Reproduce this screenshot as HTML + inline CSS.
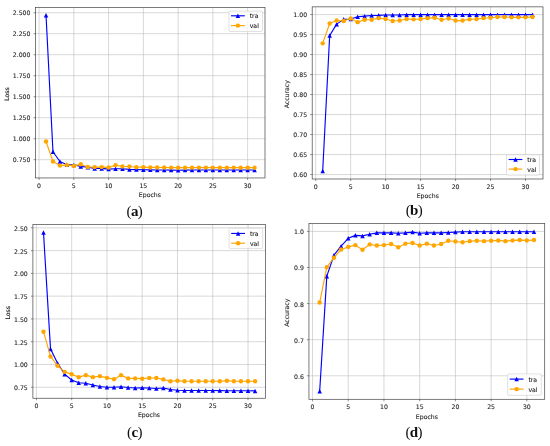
<!DOCTYPE html>
<html><head><meta charset="utf-8"><title>Training curves</title>
<style>
html,body{margin:0;padding:0;background:#fff;}
body{width:550px;height:446px;overflow:hidden;}
svg{display:block;}
.t{font-family:"DejaVu Sans","Liberation Sans",sans-serif;font-size:6.2px;fill:#1c1c1c;stroke:#1c1c1c;stroke-width:0.1px;}
.cap{font-family:"Liberation Serif","DejaVu Serif",serif;font-size:15px;fill:#111;letter-spacing:-0.7px;}
.cap .b{font-weight:bold;}
</style></head><body>
<svg width="550" height="446" viewBox="0 0 550 446">
<rect x="0" y="0" width="550" height="446" fill="#ffffff"/>

<g>
<path d="M39.08 7.45V177.95M73.83 7.45V177.95M108.59 7.45V177.95M143.35 7.45V177.95M178.11 7.45V177.95M212.86 7.45V177.95M247.62 7.45V177.95M35.60 159.70H265.00M35.60 138.70H265.00M35.60 117.70H265.00M35.60 96.70H265.00M35.60 75.70H265.00M35.60 54.70H265.00M35.60 33.70H265.00M35.60 12.70H265.00" stroke="#b8b8b8" stroke-width="0.55" fill="none"/>
<path d="M39.08 177.95v2M73.83 177.95v2M108.59 177.95v2M143.35 177.95v2M178.11 177.95v2M212.86 177.95v2M247.62 177.95v2M35.60 159.70h-2M35.60 138.70h-2M35.60 117.70h-2M35.60 96.70h-2M35.60 75.70h-2M35.60 54.70h-2M35.60 33.70h-2M35.60 12.70h-2" stroke="#444444" stroke-width="0.6" fill="none"/>
<polyline points="46.03,15.22 52.98,151.72 59.93,161.46 66.88,164.74 73.83,164.91 80.78,166.42 87.74,167.26 94.69,168.44 101.64,168.44 108.59,169.11 115.54,168.77 122.49,168.77 129.45,169.44 136.40,169.61 143.35,169.78 150.30,169.86 157.25,169.95 164.20,170.03 171.15,170.12 178.11,170.20 185.06,170.12 192.01,170.03 198.96,169.95 205.91,169.95 212.86,169.95 219.82,169.95 226.77,169.95 233.72,169.95 240.67,169.95 247.62,169.95 254.57,170.03" fill="none" stroke="#0000ff" stroke-width="1.15" stroke-linejoin="round"/>
<path d="M46.03 12.97L48.28 17.47L43.78 17.47ZM52.98 149.47L55.23 153.97L50.73 153.97ZM59.93 159.21L62.18 163.71L57.68 163.71ZM66.88 162.49L69.13 166.99L64.63 166.99ZM73.83 162.66L76.08 167.16L71.58 167.16ZM80.78 164.17L83.03 168.67L78.53 168.67ZM87.74 165.01L89.99 169.51L85.49 169.51ZM94.69 166.19L96.94 170.69L92.44 170.69ZM101.64 166.19L103.89 170.69L99.39 170.69ZM108.59 166.86L110.84 171.36L106.34 171.36ZM115.54 166.52L117.79 171.02L113.29 171.02ZM122.49 166.52L124.74 171.02L120.24 171.02ZM129.45 167.19L131.70 171.69L127.20 171.69ZM136.40 167.36L138.65 171.86L134.15 171.86ZM143.35 167.53L145.60 172.03L141.10 172.03ZM150.30 167.61L152.55 172.11L148.05 172.11ZM157.25 167.70L159.50 172.20L155.00 172.20ZM164.20 167.78L166.45 172.28L161.95 172.28ZM171.15 167.87L173.40 172.37L168.90 172.37ZM178.11 167.95L180.36 172.45L175.86 172.45ZM185.06 167.87L187.31 172.37L182.81 172.37ZM192.01 167.78L194.26 172.28L189.76 172.28ZM198.96 167.70L201.21 172.20L196.71 172.20ZM205.91 167.70L208.16 172.20L203.66 172.20ZM212.86 167.70L215.11 172.20L210.61 172.20ZM219.82 167.70L222.07 172.20L217.57 172.20ZM226.77 167.70L229.02 172.20L224.52 172.20ZM233.72 167.70L235.97 172.20L231.47 172.20ZM240.67 167.70L242.92 172.20L238.42 172.20ZM247.62 167.70L249.87 172.20L245.37 172.20ZM254.57 167.78L256.82 172.28L252.32 172.28Z" fill="#0000ff"/>
<polyline points="46.03,141.47 52.98,161.46 59.93,165.58 66.88,164.91 73.83,165.92 80.78,164.32 87.74,167.01 94.69,167.09 101.64,167.09 108.59,167.43 115.54,165.16 122.49,166.50 129.45,166.50 136.40,167.26 143.35,167.09 150.30,167.43 157.25,167.43 164.20,167.51 171.15,167.60 178.11,167.68 185.06,167.68 192.01,167.60 198.96,167.60 205.91,167.60 212.86,167.60 219.82,167.68 226.77,167.68 233.72,167.60 240.67,167.68 247.62,167.68 254.57,167.68" fill="none" stroke="#ffa500" stroke-width="1.15" stroke-linejoin="round"/>
<circle cx="46.03" cy="141.47" r="2.2" fill="#ffa500"/>
<circle cx="52.98" cy="161.46" r="2.2" fill="#ffa500"/>
<circle cx="59.93" cy="165.58" r="2.2" fill="#ffa500"/>
<circle cx="66.88" cy="164.91" r="2.2" fill="#ffa500"/>
<circle cx="73.83" cy="165.92" r="2.2" fill="#ffa500"/>
<circle cx="80.78" cy="164.32" r="2.2" fill="#ffa500"/>
<circle cx="87.74" cy="167.01" r="2.2" fill="#ffa500"/>
<circle cx="94.69" cy="167.09" r="2.2" fill="#ffa500"/>
<circle cx="101.64" cy="167.09" r="2.2" fill="#ffa500"/>
<circle cx="108.59" cy="167.43" r="2.2" fill="#ffa500"/>
<circle cx="115.54" cy="165.16" r="2.2" fill="#ffa500"/>
<circle cx="122.49" cy="166.50" r="2.2" fill="#ffa500"/>
<circle cx="129.45" cy="166.50" r="2.2" fill="#ffa500"/>
<circle cx="136.40" cy="167.26" r="2.2" fill="#ffa500"/>
<circle cx="143.35" cy="167.09" r="2.2" fill="#ffa500"/>
<circle cx="150.30" cy="167.43" r="2.2" fill="#ffa500"/>
<circle cx="157.25" cy="167.43" r="2.2" fill="#ffa500"/>
<circle cx="164.20" cy="167.51" r="2.2" fill="#ffa500"/>
<circle cx="171.15" cy="167.60" r="2.2" fill="#ffa500"/>
<circle cx="178.11" cy="167.68" r="2.2" fill="#ffa500"/>
<circle cx="185.06" cy="167.68" r="2.2" fill="#ffa500"/>
<circle cx="192.01" cy="167.60" r="2.2" fill="#ffa500"/>
<circle cx="198.96" cy="167.60" r="2.2" fill="#ffa500"/>
<circle cx="205.91" cy="167.60" r="2.2" fill="#ffa500"/>
<circle cx="212.86" cy="167.60" r="2.2" fill="#ffa500"/>
<circle cx="219.82" cy="167.68" r="2.2" fill="#ffa500"/>
<circle cx="226.77" cy="167.68" r="2.2" fill="#ffa500"/>
<circle cx="233.72" cy="167.60" r="2.2" fill="#ffa500"/>
<circle cx="240.67" cy="167.68" r="2.2" fill="#ffa500"/>
<circle cx="247.62" cy="167.68" r="2.2" fill="#ffa500"/>
<circle cx="254.57" cy="167.68" r="2.2" fill="#ffa500"/>
<rect x="35.60" y="7.45" width="229.40" height="170.50" fill="none" stroke="#444444" stroke-width="0.7"/>
<text class="t" x="39.08" y="187.65" text-anchor="middle">0</text>
<text class="t" x="73.83" y="187.65" text-anchor="middle">5</text>
<text class="t" x="108.59" y="187.65" text-anchor="middle">10</text>
<text class="t" x="143.35" y="187.65" text-anchor="middle">15</text>
<text class="t" x="178.11" y="187.65" text-anchor="middle">20</text>
<text class="t" x="212.86" y="187.65" text-anchor="middle">25</text>
<text class="t" x="247.62" y="187.65" text-anchor="middle">30</text>
<text class="t" x="30.50" y="162.35" text-anchor="end">0.750</text>
<text class="t" x="30.50" y="141.35" text-anchor="end">1.000</text>
<text class="t" x="30.50" y="120.35" text-anchor="end">1.250</text>
<text class="t" x="30.50" y="99.35" text-anchor="end">1.500</text>
<text class="t" x="30.50" y="78.35" text-anchor="end">1.750</text>
<text class="t" x="30.50" y="57.35" text-anchor="end">2.000</text>
<text class="t" x="30.50" y="36.35" text-anchor="end">2.250</text>
<text class="t" x="30.50" y="15.35" text-anchor="end">2.500</text>
<text class="t" x="149.90" y="196.95" text-anchor="middle">Epochs</text>
<text class="t" transform="translate(9.30 94.00) rotate(-90)" text-anchor="middle">Loss</text>
<rect x="228.90" y="11.10" width="33.60" height="20.35" rx="1.2" fill="#ffffff" fill-opacity="0.8" stroke="#cccccc" stroke-width="0.6"/>
<path d="M231.00 15.80H244.80" stroke="#0000ff" stroke-width="1.15"/>
<path d="M237.90 13.55L240.15 18.05L235.65 18.05Z" fill="#0000ff"/>
<path d="M231.00 25.60H244.80" stroke="#ffa500" stroke-width="1.15"/>
<circle cx="237.90" cy="25.60" r="2.2" fill="#ffa500"/>
<text class="t" x="249.70" y="18.30">tra</text>
<text class="t" x="249.70" y="28.10">val</text>
<text class="cap" x="134.30" y="215.60" text-anchor="middle">(<tspan class="b">a</tspan>)</text>
</g>
<g>
<path d="M315.70 6.85V179.00M350.67 6.85V179.00M385.64 6.85V179.00M420.61 6.85V179.00M455.58 6.85V179.00M490.55 6.85V179.00M525.52 6.85V179.00M312.20 174.55H543.00M312.20 154.55H543.00M312.20 134.55H543.00M312.20 114.55H543.00M312.20 94.55H543.00M312.20 74.55H543.00M312.20 54.55H543.00M312.20 34.55H543.00M312.20 14.55H543.00" stroke="#b8b8b8" stroke-width="0.55" fill="none"/>
<path d="M315.70 179.00v2M350.67 179.00v2M385.64 179.00v2M420.61 179.00v2M455.58 179.00v2M490.55 179.00v2M525.52 179.00v2M312.20 174.55h-2M312.20 154.55h-2M312.20 134.55h-2M312.20 114.55h-2M312.20 94.55h-2M312.20 74.55h-2M312.20 54.55h-2M312.20 34.55h-2M312.20 14.55h-2" stroke="#444444" stroke-width="0.6" fill="none"/>
<polyline points="322.69,170.95 329.68,35.55 336.68,24.15 343.67,19.35 350.67,18.95 357.66,16.75 364.65,16.15 371.65,15.55 378.64,15.35 385.64,14.95 392.63,14.95 399.62,14.95 406.62,14.63 413.61,14.63 420.61,14.63 427.60,14.63 434.59,14.63 441.59,14.63 448.58,14.63 455.58,14.63 462.57,14.63 469.56,14.63 476.56,14.63 483.55,14.63 490.55,14.63 497.54,14.63 504.53,14.63 511.53,14.63 518.52,14.63 525.52,14.63 532.51,14.63" fill="none" stroke="#0000ff" stroke-width="1.15" stroke-linejoin="round"/>
<path d="M322.69 168.70L324.94 173.20L320.44 173.20ZM329.68 33.30L331.93 37.80L327.43 37.80ZM336.68 21.90L338.93 26.40L334.43 26.40ZM343.67 17.10L345.92 21.60L341.42 21.60ZM350.67 16.70L352.92 21.20L348.42 21.20ZM357.66 14.50L359.91 19.00L355.41 19.00ZM364.65 13.90L366.90 18.40L362.40 18.40ZM371.65 13.30L373.90 17.80L369.40 17.80ZM378.64 13.10L380.89 17.60L376.39 17.60ZM385.64 12.70L387.89 17.20L383.39 17.20ZM392.63 12.70L394.88 17.20L390.38 17.20ZM399.62 12.70L401.87 17.20L397.37 17.20ZM406.62 12.38L408.87 16.88L404.37 16.88ZM413.61 12.38L415.86 16.88L411.36 16.88ZM420.61 12.38L422.86 16.88L418.36 16.88ZM427.60 12.38L429.85 16.88L425.35 16.88ZM434.59 12.38L436.84 16.88L432.34 16.88ZM441.59 12.38L443.84 16.88L439.34 16.88ZM448.58 12.38L450.83 16.88L446.33 16.88ZM455.58 12.38L457.83 16.88L453.33 16.88ZM462.57 12.38L464.82 16.88L460.32 16.88ZM469.56 12.38L471.81 16.88L467.31 16.88ZM476.56 12.38L478.81 16.88L474.31 16.88ZM483.55 12.38L485.80 16.88L481.30 16.88ZM490.55 12.38L492.80 16.88L488.30 16.88ZM497.54 12.38L499.79 16.88L495.29 16.88ZM504.53 12.38L506.78 16.88L502.28 16.88ZM511.53 12.38L513.78 16.88L509.28 16.88ZM518.52 12.38L520.77 16.88L516.27 16.88ZM525.52 12.38L527.77 16.88L523.27 16.88ZM532.51 12.38L534.76 16.88L530.26 16.88Z" fill="#0000ff"/>
<polyline points="322.69,43.35 329.68,23.55 336.68,20.55 343.67,20.95 350.67,18.55 357.66,22.15 364.65,19.75 371.65,19.75 378.64,18.15 385.64,18.95 392.63,20.95 399.62,20.55 406.62,18.95 413.61,19.35 420.61,18.95 427.60,18.15 434.59,17.75 441.59,19.75 448.58,18.55 455.58,20.55 462.57,20.55 469.56,19.35 476.56,18.95 483.55,18.15 490.55,17.75 497.54,16.95 504.53,16.95 511.53,17.35 518.52,17.35 525.52,17.35 532.51,16.95" fill="none" stroke="#ffa500" stroke-width="1.15" stroke-linejoin="round"/>
<circle cx="322.69" cy="43.35" r="2.2" fill="#ffa500"/>
<circle cx="329.68" cy="23.55" r="2.2" fill="#ffa500"/>
<circle cx="336.68" cy="20.55" r="2.2" fill="#ffa500"/>
<circle cx="343.67" cy="20.95" r="2.2" fill="#ffa500"/>
<circle cx="350.67" cy="18.55" r="2.2" fill="#ffa500"/>
<circle cx="357.66" cy="22.15" r="2.2" fill="#ffa500"/>
<circle cx="364.65" cy="19.75" r="2.2" fill="#ffa500"/>
<circle cx="371.65" cy="19.75" r="2.2" fill="#ffa500"/>
<circle cx="378.64" cy="18.15" r="2.2" fill="#ffa500"/>
<circle cx="385.64" cy="18.95" r="2.2" fill="#ffa500"/>
<circle cx="392.63" cy="20.95" r="2.2" fill="#ffa500"/>
<circle cx="399.62" cy="20.55" r="2.2" fill="#ffa500"/>
<circle cx="406.62" cy="18.95" r="2.2" fill="#ffa500"/>
<circle cx="413.61" cy="19.35" r="2.2" fill="#ffa500"/>
<circle cx="420.61" cy="18.95" r="2.2" fill="#ffa500"/>
<circle cx="427.60" cy="18.15" r="2.2" fill="#ffa500"/>
<circle cx="434.59" cy="17.75" r="2.2" fill="#ffa500"/>
<circle cx="441.59" cy="19.75" r="2.2" fill="#ffa500"/>
<circle cx="448.58" cy="18.55" r="2.2" fill="#ffa500"/>
<circle cx="455.58" cy="20.55" r="2.2" fill="#ffa500"/>
<circle cx="462.57" cy="20.55" r="2.2" fill="#ffa500"/>
<circle cx="469.56" cy="19.35" r="2.2" fill="#ffa500"/>
<circle cx="476.56" cy="18.95" r="2.2" fill="#ffa500"/>
<circle cx="483.55" cy="18.15" r="2.2" fill="#ffa500"/>
<circle cx="490.55" cy="17.75" r="2.2" fill="#ffa500"/>
<circle cx="497.54" cy="16.95" r="2.2" fill="#ffa500"/>
<circle cx="504.53" cy="16.95" r="2.2" fill="#ffa500"/>
<circle cx="511.53" cy="17.35" r="2.2" fill="#ffa500"/>
<circle cx="518.52" cy="17.35" r="2.2" fill="#ffa500"/>
<circle cx="525.52" cy="17.35" r="2.2" fill="#ffa500"/>
<circle cx="532.51" cy="16.95" r="2.2" fill="#ffa500"/>
<rect x="312.20" y="6.85" width="230.80" height="172.15" fill="none" stroke="#444444" stroke-width="0.7"/>
<text class="t" x="315.70" y="188.70" text-anchor="middle">0</text>
<text class="t" x="350.67" y="188.70" text-anchor="middle">5</text>
<text class="t" x="385.64" y="188.70" text-anchor="middle">10</text>
<text class="t" x="420.61" y="188.70" text-anchor="middle">15</text>
<text class="t" x="455.58" y="188.70" text-anchor="middle">20</text>
<text class="t" x="490.55" y="188.70" text-anchor="middle">25</text>
<text class="t" x="525.52" y="188.70" text-anchor="middle">30</text>
<text class="t" x="307.10" y="176.95" text-anchor="end">0.60</text>
<text class="t" x="307.10" y="156.95" text-anchor="end">0.65</text>
<text class="t" x="307.10" y="136.95" text-anchor="end">0.70</text>
<text class="t" x="307.10" y="116.95" text-anchor="end">0.75</text>
<text class="t" x="307.10" y="96.95" text-anchor="end">0.80</text>
<text class="t" x="307.10" y="76.95" text-anchor="end">0.85</text>
<text class="t" x="307.10" y="56.95" text-anchor="end">0.90</text>
<text class="t" x="307.10" y="36.95" text-anchor="end">0.95</text>
<text class="t" x="307.10" y="16.95" text-anchor="end">1.00</text>
<text class="t" x="427.80" y="198.30" text-anchor="middle">Epochs</text>
<text class="t" transform="translate(288.60 94.22) rotate(-90)" text-anchor="middle">Accuracy</text>
<rect x="506.50" y="154.80" width="33.00" height="20.30" rx="1.2" fill="#ffffff" fill-opacity="0.8" stroke="#cccccc" stroke-width="0.6"/>
<path d="M508.60 159.50H522.40" stroke="#0000ff" stroke-width="1.15"/>
<path d="M515.50 157.25L517.75 161.75L513.25 161.75Z" fill="#0000ff"/>
<path d="M508.60 169.10H522.40" stroke="#ffa500" stroke-width="1.15"/>
<circle cx="515.50" cy="169.10" r="2.2" fill="#ffa500"/>
<text class="t" x="527.30" y="162.00">tra</text>
<text class="t" x="527.30" y="171.60">val</text>
<text class="cap" x="413.80" y="215.40" text-anchor="middle">(<tspan class="b">b</tspan>)</text>
</g>
<g>
<path d="M36.43 224.60V398.25M71.69 224.60V398.25M106.96 224.60V398.25M142.22 224.60V398.25M177.49 224.60V398.25M212.75 224.60V398.25M248.02 224.60V398.25M32.90 387.25H265.65M32.90 364.48H265.65M32.90 341.71H265.65M32.90 318.94H265.65M32.90 296.16H265.65M32.90 273.39H265.65M32.90 250.62H265.65M32.90 227.85H265.65" stroke="#b8b8b8" stroke-width="0.55" fill="none"/>
<path d="M36.43 398.25v2M71.69 398.25v2M106.96 398.25v2M142.22 398.25v2M177.49 398.25v2M212.75 398.25v2M248.02 398.25v2M32.90 387.25h-2M32.90 364.48h-2M32.90 341.71h-2M32.90 318.94h-2M32.90 296.16h-2M32.90 273.39h-2M32.90 250.62h-2M32.90 227.85h-2" stroke="#444444" stroke-width="0.6" fill="none"/>
<polyline points="43.48,232.40 50.53,348.90 57.59,363.29 64.64,374.13 71.69,379.96 78.74,382.70 85.80,383.24 92.85,384.97 99.90,386.52 106.96,387.25 114.01,387.25 121.06,386.70 128.12,387.52 135.17,387.98 142.22,387.80 149.27,387.98 156.33,388.53 163.38,387.98 170.43,389.53 177.49,390.26 184.54,390.53 191.59,390.53 198.65,390.53 205.70,390.53 212.75,390.53 219.81,390.62 226.86,390.71 233.91,390.71 240.96,390.71 248.02,390.80 255.07,390.89" fill="none" stroke="#0000ff" stroke-width="1.15" stroke-linejoin="round"/>
<path d="M43.48 230.15L45.73 234.65L41.23 234.65ZM50.53 346.65L52.78 351.15L48.28 351.15ZM57.59 361.04L59.84 365.54L55.34 365.54ZM64.64 371.88L66.89 376.38L62.39 376.38ZM71.69 377.71L73.94 382.21L69.44 382.21ZM78.74 380.45L80.99 384.95L76.49 384.95ZM85.80 380.99L88.05 385.49L83.55 385.49ZM92.85 382.72L95.10 387.22L90.60 387.22ZM99.90 384.27L102.15 388.77L97.65 388.77ZM106.96 385.00L109.21 389.50L104.71 389.50ZM114.01 385.00L116.26 389.50L111.76 389.50ZM121.06 384.45L123.31 388.95L118.81 388.95ZM128.12 385.27L130.37 389.77L125.87 389.77ZM135.17 385.73L137.42 390.23L132.92 390.23ZM142.22 385.55L144.47 390.05L139.97 390.05ZM149.27 385.73L151.52 390.23L147.02 390.23ZM156.33 386.28L158.58 390.78L154.08 390.78ZM163.38 385.73L165.63 390.23L161.13 390.23ZM170.43 387.28L172.68 391.78L168.18 391.78ZM177.49 388.01L179.74 392.51L175.24 392.51ZM184.54 388.28L186.79 392.78L182.29 392.78ZM191.59 388.28L193.84 392.78L189.34 392.78ZM198.65 388.28L200.90 392.78L196.40 392.78ZM205.70 388.28L207.95 392.78L203.45 392.78ZM212.75 388.28L215.00 392.78L210.50 392.78ZM219.81 388.37L222.06 392.87L217.56 392.87ZM226.86 388.46L229.11 392.96L224.61 392.96ZM233.91 388.46L236.16 392.96L231.66 392.96ZM240.96 388.46L243.21 392.96L238.71 392.96ZM248.02 388.55L250.27 393.05L245.77 393.05ZM255.07 388.64L257.32 393.14L252.82 393.14Z" fill="#0000ff"/>
<polyline points="43.48,331.69 50.53,356.46 57.59,365.75 64.64,371.86 71.69,374.32 78.74,377.14 85.80,375.14 92.85,377.14 99.90,376.14 106.96,377.87 114.01,379.14 121.06,375.14 128.12,378.41 135.17,378.41 142.22,378.69 149.27,377.96 156.33,377.96 163.38,379.42 170.43,381.24 177.49,380.69 184.54,381.24 191.59,381.24 198.65,381.24 205.70,381.24 212.75,381.24 219.81,381.24 226.86,380.69 233.91,381.24 240.96,381.24 248.02,381.24 255.07,381.24" fill="none" stroke="#ffa500" stroke-width="1.15" stroke-linejoin="round"/>
<circle cx="43.48" cy="331.69" r="2.2" fill="#ffa500"/>
<circle cx="50.53" cy="356.46" r="2.2" fill="#ffa500"/>
<circle cx="57.59" cy="365.75" r="2.2" fill="#ffa500"/>
<circle cx="64.64" cy="371.86" r="2.2" fill="#ffa500"/>
<circle cx="71.69" cy="374.32" r="2.2" fill="#ffa500"/>
<circle cx="78.74" cy="377.14" r="2.2" fill="#ffa500"/>
<circle cx="85.80" cy="375.14" r="2.2" fill="#ffa500"/>
<circle cx="92.85" cy="377.14" r="2.2" fill="#ffa500"/>
<circle cx="99.90" cy="376.14" r="2.2" fill="#ffa500"/>
<circle cx="106.96" cy="377.87" r="2.2" fill="#ffa500"/>
<circle cx="114.01" cy="379.14" r="2.2" fill="#ffa500"/>
<circle cx="121.06" cy="375.14" r="2.2" fill="#ffa500"/>
<circle cx="128.12" cy="378.41" r="2.2" fill="#ffa500"/>
<circle cx="135.17" cy="378.41" r="2.2" fill="#ffa500"/>
<circle cx="142.22" cy="378.69" r="2.2" fill="#ffa500"/>
<circle cx="149.27" cy="377.96" r="2.2" fill="#ffa500"/>
<circle cx="156.33" cy="377.96" r="2.2" fill="#ffa500"/>
<circle cx="163.38" cy="379.42" r="2.2" fill="#ffa500"/>
<circle cx="170.43" cy="381.24" r="2.2" fill="#ffa500"/>
<circle cx="177.49" cy="380.69" r="2.2" fill="#ffa500"/>
<circle cx="184.54" cy="381.24" r="2.2" fill="#ffa500"/>
<circle cx="191.59" cy="381.24" r="2.2" fill="#ffa500"/>
<circle cx="198.65" cy="381.24" r="2.2" fill="#ffa500"/>
<circle cx="205.70" cy="381.24" r="2.2" fill="#ffa500"/>
<circle cx="212.75" cy="381.24" r="2.2" fill="#ffa500"/>
<circle cx="219.81" cy="381.24" r="2.2" fill="#ffa500"/>
<circle cx="226.86" cy="380.69" r="2.2" fill="#ffa500"/>
<circle cx="233.91" cy="381.24" r="2.2" fill="#ffa500"/>
<circle cx="240.96" cy="381.24" r="2.2" fill="#ffa500"/>
<circle cx="248.02" cy="381.24" r="2.2" fill="#ffa500"/>
<circle cx="255.07" cy="381.24" r="2.2" fill="#ffa500"/>
<rect x="32.90" y="224.60" width="232.75" height="173.65" fill="none" stroke="#444444" stroke-width="0.7"/>
<text class="t" x="36.43" y="407.95" text-anchor="middle">0</text>
<text class="t" x="71.69" y="407.95" text-anchor="middle">5</text>
<text class="t" x="106.96" y="407.95" text-anchor="middle">10</text>
<text class="t" x="142.22" y="407.95" text-anchor="middle">15</text>
<text class="t" x="177.49" y="407.95" text-anchor="middle">20</text>
<text class="t" x="212.75" y="407.95" text-anchor="middle">25</text>
<text class="t" x="248.02" y="407.95" text-anchor="middle">30</text>
<text class="t" x="27.80" y="390.20" text-anchor="end">0.75</text>
<text class="t" x="27.80" y="367.43" text-anchor="end">1.00</text>
<text class="t" x="27.80" y="344.66" text-anchor="end">1.25</text>
<text class="t" x="27.80" y="321.89" text-anchor="end">1.50</text>
<text class="t" x="27.80" y="299.11" text-anchor="end">1.75</text>
<text class="t" x="27.80" y="276.34" text-anchor="end">2.00</text>
<text class="t" x="27.80" y="253.57" text-anchor="end">2.25</text>
<text class="t" x="27.80" y="230.80" text-anchor="end">2.50</text>
<text class="t" x="148.97" y="417.35" text-anchor="middle">Epochs</text>
<text class="t" transform="translate(9.90 312.73) rotate(-90)" text-anchor="middle">Loss</text>
<rect x="229.10" y="228.20" width="33.60" height="20.40" rx="1.2" fill="#ffffff" fill-opacity="0.8" stroke="#cccccc" stroke-width="0.6"/>
<path d="M231.20 233.45H245.00" stroke="#0000ff" stroke-width="1.15"/>
<path d="M238.10 231.20L240.35 235.70L235.85 235.70Z" fill="#0000ff"/>
<path d="M231.20 243.20H245.00" stroke="#ffa500" stroke-width="1.15"/>
<circle cx="238.10" cy="243.20" r="2.2" fill="#ffa500"/>
<text class="t" x="249.90" y="235.95">tra</text>
<text class="t" x="249.90" y="245.70">val</text>
<text class="cap" x="134.40" y="437.00" text-anchor="middle">(<tspan class="b">c</tspan>)</text>
</g>
<g>
<path d="M312.52 223.50V399.30M348.24 223.50V399.30M383.96 223.50V399.30M419.68 223.50V399.30M455.40 223.50V399.30M491.12 223.50V399.30M526.84 223.50V399.30M308.95 375.80H544.70M308.95 339.70H544.70M308.95 303.60H544.70M308.95 267.50H544.70M308.95 231.40H544.70" stroke="#b8b8b8" stroke-width="0.55" fill="none"/>
<path d="M312.52 399.30v2M348.24 399.30v2M383.96 399.30v2M419.68 399.30v2M455.40 399.30v2M491.12 399.30v2M526.84 399.30v2M308.95 375.80h-2M308.95 339.70h-2M308.95 303.60h-2M308.95 267.50h-2M308.95 231.40h-2" stroke="#444444" stroke-width="0.6" fill="none"/>
<polyline points="319.67,391.32 326.81,276.16 333.95,255.23 341.10,246.20 348.24,238.26 355.39,235.37 362.53,235.91 369.67,234.29 376.82,232.84 383.96,232.84 391.11,232.84 398.25,233.21 405.39,232.84 412.54,232.12 419.68,233.21 426.83,232.84 433.97,232.84 441.11,232.84 448.26,232.48 455.40,232.12 462.54,231.76 469.69,231.76 476.83,231.76 483.98,231.76 491.12,231.76 498.26,231.76 505.41,231.76 512.55,231.76 519.70,231.76 526.84,231.76 533.98,231.76" fill="none" stroke="#0000ff" stroke-width="1.15" stroke-linejoin="round"/>
<path d="M319.67 389.07L321.92 393.57L317.42 393.57ZM326.81 273.91L329.06 278.41L324.56 278.41ZM333.95 252.98L336.20 257.48L331.70 257.48ZM341.10 243.95L343.35 248.45L338.85 248.45ZM348.24 236.01L350.49 240.51L345.99 240.51ZM355.39 233.12L357.64 237.62L353.14 237.62ZM362.53 233.66L364.78 238.16L360.28 238.16ZM369.67 232.04L371.92 236.54L367.42 236.54ZM376.82 230.59L379.07 235.09L374.57 235.09ZM383.96 230.59L386.21 235.09L381.71 235.09ZM391.11 230.59L393.36 235.09L388.86 235.09ZM398.25 230.96L400.50 235.46L396.00 235.46ZM405.39 230.59L407.64 235.09L403.14 235.09ZM412.54 229.87L414.79 234.37L410.29 234.37ZM419.68 230.96L421.93 235.46L417.43 235.46ZM426.83 230.59L429.08 235.09L424.58 235.09ZM433.97 230.59L436.22 235.09L431.72 235.09ZM441.11 230.59L443.36 235.09L438.86 235.09ZM448.26 230.23L450.51 234.73L446.01 234.73ZM455.40 229.87L457.65 234.37L453.15 234.37ZM462.54 229.51L464.79 234.01L460.29 234.01ZM469.69 229.51L471.94 234.01L467.44 234.01ZM476.83 229.51L479.08 234.01L474.58 234.01ZM483.98 229.51L486.23 234.01L481.73 234.01ZM491.12 229.51L493.37 234.01L488.87 234.01ZM498.26 229.51L500.51 234.01L496.01 234.01ZM505.41 229.51L507.66 234.01L503.16 234.01ZM512.55 229.51L514.80 234.01L510.30 234.01ZM519.70 229.51L521.95 234.01L517.45 234.01ZM526.84 229.51L529.09 234.01L524.59 234.01ZM533.98 229.51L536.23 234.01L531.73 234.01Z" fill="#0000ff"/>
<polyline points="319.67,302.52 326.81,267.14 333.95,257.75 341.10,249.45 348.24,246.92 355.39,245.12 362.53,249.81 369.67,244.40 376.82,245.48 383.96,245.12 391.11,244.04 398.25,247.28 405.39,243.67 412.54,242.95 419.68,245.48 426.83,243.67 433.97,245.48 441.11,244.04 448.26,240.79 455.40,241.51 462.54,242.23 469.69,241.15 476.83,240.79 483.98,241.15 491.12,240.79 498.26,240.43 505.41,241.15 512.55,240.43 519.70,240.06 526.84,240.43 533.98,240.06" fill="none" stroke="#ffa500" stroke-width="1.15" stroke-linejoin="round"/>
<circle cx="319.67" cy="302.52" r="2.2" fill="#ffa500"/>
<circle cx="326.81" cy="267.14" r="2.2" fill="#ffa500"/>
<circle cx="333.95" cy="257.75" r="2.2" fill="#ffa500"/>
<circle cx="341.10" cy="249.45" r="2.2" fill="#ffa500"/>
<circle cx="348.24" cy="246.92" r="2.2" fill="#ffa500"/>
<circle cx="355.39" cy="245.12" r="2.2" fill="#ffa500"/>
<circle cx="362.53" cy="249.81" r="2.2" fill="#ffa500"/>
<circle cx="369.67" cy="244.40" r="2.2" fill="#ffa500"/>
<circle cx="376.82" cy="245.48" r="2.2" fill="#ffa500"/>
<circle cx="383.96" cy="245.12" r="2.2" fill="#ffa500"/>
<circle cx="391.11" cy="244.04" r="2.2" fill="#ffa500"/>
<circle cx="398.25" cy="247.28" r="2.2" fill="#ffa500"/>
<circle cx="405.39" cy="243.67" r="2.2" fill="#ffa500"/>
<circle cx="412.54" cy="242.95" r="2.2" fill="#ffa500"/>
<circle cx="419.68" cy="245.48" r="2.2" fill="#ffa500"/>
<circle cx="426.83" cy="243.67" r="2.2" fill="#ffa500"/>
<circle cx="433.97" cy="245.48" r="2.2" fill="#ffa500"/>
<circle cx="441.11" cy="244.04" r="2.2" fill="#ffa500"/>
<circle cx="448.26" cy="240.79" r="2.2" fill="#ffa500"/>
<circle cx="455.40" cy="241.51" r="2.2" fill="#ffa500"/>
<circle cx="462.54" cy="242.23" r="2.2" fill="#ffa500"/>
<circle cx="469.69" cy="241.15" r="2.2" fill="#ffa500"/>
<circle cx="476.83" cy="240.79" r="2.2" fill="#ffa500"/>
<circle cx="483.98" cy="241.15" r="2.2" fill="#ffa500"/>
<circle cx="491.12" cy="240.79" r="2.2" fill="#ffa500"/>
<circle cx="498.26" cy="240.43" r="2.2" fill="#ffa500"/>
<circle cx="505.41" cy="241.15" r="2.2" fill="#ffa500"/>
<circle cx="512.55" cy="240.43" r="2.2" fill="#ffa500"/>
<circle cx="519.70" cy="240.06" r="2.2" fill="#ffa500"/>
<circle cx="526.84" cy="240.43" r="2.2" fill="#ffa500"/>
<circle cx="533.98" cy="240.06" r="2.2" fill="#ffa500"/>
<rect x="308.95" y="223.50" width="235.75" height="175.80" fill="none" stroke="#444444" stroke-width="0.7"/>
<text class="t" x="312.52" y="409.00" text-anchor="middle">0</text>
<text class="t" x="348.24" y="409.00" text-anchor="middle">5</text>
<text class="t" x="383.96" y="409.00" text-anchor="middle">10</text>
<text class="t" x="419.68" y="409.00" text-anchor="middle">15</text>
<text class="t" x="455.40" y="409.00" text-anchor="middle">20</text>
<text class="t" x="491.12" y="409.00" text-anchor="middle">25</text>
<text class="t" x="526.84" y="409.00" text-anchor="middle">30</text>
<text class="t" x="303.85" y="378.75" text-anchor="end">0.6</text>
<text class="t" x="303.85" y="342.65" text-anchor="end">0.7</text>
<text class="t" x="303.85" y="306.55" text-anchor="end">0.8</text>
<text class="t" x="303.85" y="270.45" text-anchor="end">0.9</text>
<text class="t" x="303.85" y="234.35" text-anchor="end">1.0</text>
<text class="t" x="426.93" y="418.80" text-anchor="middle">Epochs</text>
<text class="t" transform="translate(289.00 312.70) rotate(-90)" text-anchor="middle">Accuracy</text>
<rect x="507.60" y="373.90" width="33.70" height="21.40" rx="1.2" fill="#ffffff" fill-opacity="0.8" stroke="#cccccc" stroke-width="0.6"/>
<path d="M509.70 379.10H523.50" stroke="#0000ff" stroke-width="1.15"/>
<path d="M516.60 376.85L518.85 381.35L514.35 381.35Z" fill="#0000ff"/>
<path d="M509.70 389.10H523.50" stroke="#ffa500" stroke-width="1.15"/>
<circle cx="516.60" cy="389.10" r="2.2" fill="#ffa500"/>
<text class="t" x="528.40" y="381.60">tra</text>
<text class="t" x="528.40" y="391.60">val</text>
<text class="cap" x="413.60" y="437.00" text-anchor="middle">(<tspan class="b">d</tspan>)</text>
</g>
</svg></body></html>
